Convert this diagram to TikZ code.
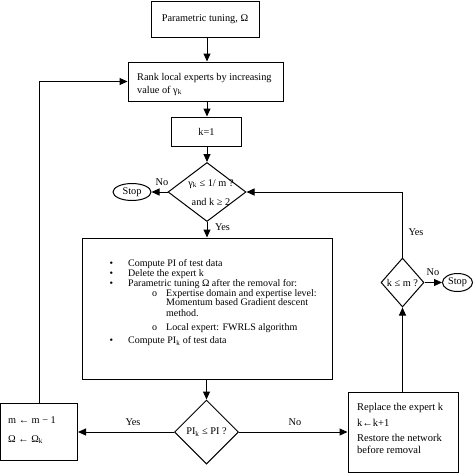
\documentclass[tikz,border=0pt]{standalone}
\usepackage{fontspec}
\setmainfont{Liberation Serif}
\usetikzlibrary{shapes.geometric,arrows.meta}
\begin{document}
\begin{tikzpicture}[x=1pt,y=-1pt,font=\fontsize{10.3}{12}\selectfont,
  box/.style={draw,line width=1pt,inner sep=0pt},
  dia/.style={draw,diamond,line width=1pt,inner sep=0pt,aspect=1},
  stopnode/.style={draw,ellipse,line width=1pt,inner sep=0pt},
  arr/.style={line width=1pt,-{Triangle[length=8pt,width=7pt]}},
  lbl/.style={inner sep=0pt}]
\useasboundingbox (0,0) rectangle (474,475);
% boxes
\node[box,minimum width=108pt,minimum height=36pt] (top) at (205,19) {Parametric tuning, Ω};
\node[box,minimum width=155pt,minimum height=39pt] (rank) at (205.5,81.5) {};
\node[lbl,anchor=north west,align=left,font=\fontsize{10.3}{13}\selectfont] (ranktxt) at (137,72.7) {Rank local experts by increasing\\value of γ\textsubscript{k}};
\node[box,minimum width=70pt,minimum height=29pt] (k1) at (206.5,131.5) {k=1};
\node[dia,minimum width=78pt,minimum height=59pt] (d1) at (207,192) {};
\node[lbl,align=center,font=\fontsize{10.3}{19}\selectfont] (d1txt) at (211,192.5) {γ\textsubscript{k} ≤ 1/ m ?\\and k ≥ 2};
\node[stopnode,minimum width=38pt,minimum height=17pt] (stop1) at (132,192) {Stop};
\node[box,minimum width=250pt,minimum height=141pt] (big) at (207,308.5) {};
\node[lbl,anchor=north west,align=left,font=\fontsize{10}{9.7}\selectfont] (bigtxt) at (109.5,259.7) {%
\makebox[18.5pt][l]{•}Compute PI of test data\\
\makebox[18.5pt][l]{•}Delete the expert k\\
\makebox[18.5pt][l]{•}Parametric tuning Ω after the removal for:\\
\hspace*{42.5pt}\makebox[14pt][l]{o}Expertise domain and expertise level:\\
\hspace*{56.5pt}Momentum based Gradient descent\\[1.3pt]
\hspace*{56.5pt}method.\\[4.3pt]
\hspace*{42.5pt}\makebox[14pt][l]{o}Local expert: FWRLS algorithm\\[3.3pt]
\makebox[18.5pt][l]{•}Compute PI\textsubscript{k} of test data};
\node[dia,minimum width=64pt,minimum height=64pt] (d3) at (206.5,432) {PI\textsubscript{k} ≤ PI ?};
\node[box,minimum width=77pt,minimum height=57pt] (lbox) at (39,432) {};
\node[lbl,anchor=north west,align=left,font=\fontsize{10.3}{19}\selectfont] (lboxtxt) at (8,416) {m ← m − 1\\Ω ← Ω\textsubscript{k}};
\node[box,minimum width=110pt,minimum height=80pt] (rbox) at (403,432) {};
\node[lbl,anchor=north west,align=left,font=\fontsize{10.5}{12}\selectfont] (rboxtxt) at (357,403.5) {Replace the expert k\\[4pt]k←k+1\\[3pt]Restore the network\\before removal};
\node[dia,minimum width=43pt,minimum height=49pt] (d2) at (402.5,282.5) {k ≤ m ?};
\node[stopnode,minimum width=30pt,minimum height=18pt] (stop2) at (457.5,282.5) {Stop};
% connectors
\draw[arr] (d1.north |- top.south) -- (d1.north |- rank.north);
\draw[arr] (d1.north |- rank.south) -- (d1.north |- k1.north);
\draw[arr] (d1.north |- k1.south) -- (d1.north);
\draw[arr] (d1.west) -- (stop1.east);
\draw[arr] (d1.south) -- (big.north);
\draw[arr] (d3.north |- big.south) -- (d3.north);
\draw[arr] (d3.west) -- (lbox.east);
\draw[arr] (d3.east) -- (rbox.west);
\draw[arr] (d2.south |- rbox.north) -- (d2.south);
\draw[arr] (d2.north) |- (d1.east);
\draw[arr] (d2.east) -- (stop2.west);
\draw[arr] (lbox.north) |- (rank.west);
% labels
\node[lbl] (no1) at (162,182) {No};
\node[lbl] (yes1) at (222.5,227) {Yes};
\node[lbl] (yes2) at (416,232) {Yes};
\node[lbl] (no2) at (433,272) {No};
\node[lbl] (yes3) at (133,422) {Yes};
\node[lbl] (no3) at (295,422) {No};
\end{tikzpicture}
\end{document}
